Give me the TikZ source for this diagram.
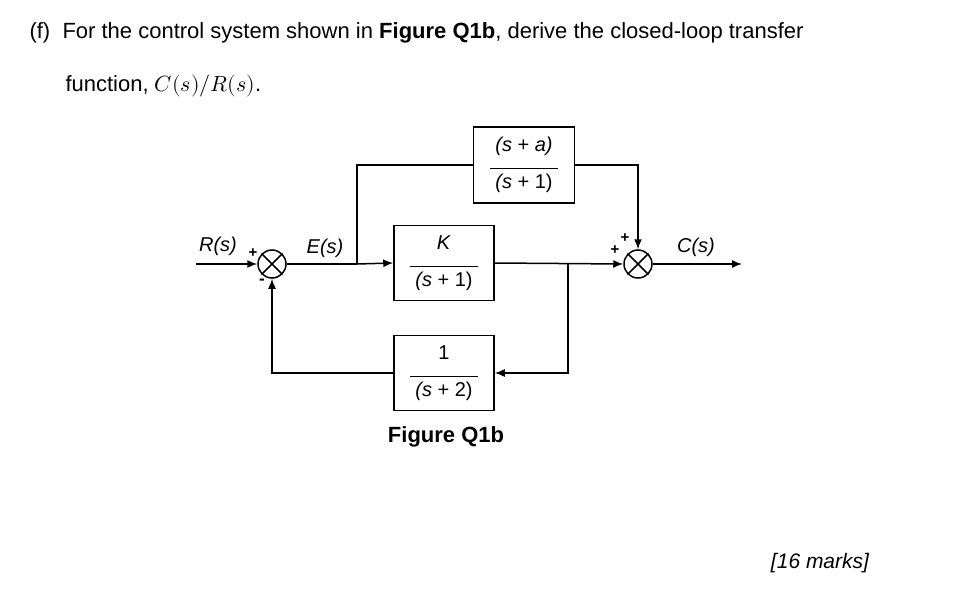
\documentclass[tikz,border=0pt]{standalone}
\usepackage{fontspec}
\setmainfont{Liberation Sans}
\usepackage{unicode-math}
\setmathfont{Latin Modern Math}
\begin{document}
\begin{tikzpicture}[x=1pt,y=-1pt,
  blk/.style={draw,line width=1.5pt,minimum width=100pt,minimum height=75pt,inner sep=0pt},
  sumj/.style={draw,circle,line width=1.5pt,minimum size=28pt,inner sep=0pt},
  sig/.style={line width=1.5pt,-{Latex[length=10pt,width=8pt]}},
  ln/.style={line width=1.5pt},
  lab/.style={font=\fontsize{20}{22}\selectfont\itshape}]
\usetikzlibrary{arrows.meta}
\useasboundingbox (0,0) rectangle (971,607);
\node[anchor=west,font=\fontsize{22}{26}\selectfont] (t1) at (26,33) {(f)\ \ For the control system shown in \textbf{Figure Q1b}, derive the closed-loop transfer};
\node[anchor=west,font=\fontsize{22}{26}\selectfont] (t2) at (62,86) {function, $C(s)/R(s)$.};
\node[sumj] (s1) at (272,264) {};
\draw[ln] (s1.north west)--(s1.south east) (s1.north east)--(s1.south west);
\node[sumj] (s2) at (638,264) {};
\draw[ln] (s2.north west)--(s2.south east) (s2.north east)--(s2.south west);
\newcommand{\blkfrac}[2]{\begin{tabular}{c}#1\\[-6pt]\rule{68pt}{1.2pt}\\[-5pt]#2\end{tabular}}
\node[blk,minimum width=101pt,minimum height=76pt] (g1) at (524,165) {\fontsize{20}{24}\selectfont\blkfrac{\textit{(s} + \textit{a)}}{\textit{(s} + 1)}};
\node[blk] (g2) at (444,263) {\fontsize{20}{24}\selectfont\blkfrac{\textit{K}}{\textit{(s} + 1)}};
\node[blk] (h) at (444,373) {\fontsize{20}{24}\selectfont\blkfrac{1}{\textit{(s} + 2)}};
\coordinate (rin) at (196,264);
\coordinate (b1) at (357,264);
\coordinate (b2) at (568,264);
\coordinate (cout) at (742,264);
\draw[sig] (rin) -- (s1.west);
\draw[ln] (s1.east) -- (b1);
\draw[sig] (b1) -- (g2.west);
\draw[ln] (b1) |- (g1.west);
\draw[sig] (g1.east) -| (s2.north);
\draw[sig] (g2.east) -- (s2.west);
\draw[sig] (b2) |- (h.east);
\draw[sig] (h.west) -| (s1.south);
\draw[sig] (s2.east) -- (cout);
\node[lab] (rl) at (218,246) {R(s)};
\node[lab] (el) at (325,248) {E(s)};
\node[lab] (cl) at (696,247) {C(s)};
\node[font=\fontsize{15}{16}\selectfont\bfseries] (p1) at (253,253) {+};
\node[font=\fontsize{17}{18}\selectfont\bfseries] (m1) at (262,282) {-};
\node[font=\fontsize{15}{16}\selectfont\bfseries] (p2) at (615,250) {+};
\node[font=\fontsize{15}{16}\selectfont\bfseries] (p3) at (625,238) {+};
\node[font=\fontsize{22}{24}\selectfont\bfseries] (fig) at (446,437) {Figure Q1b};
\node[font=\fontsize{21}{24}\selectfont\itshape] (mk) at (820,563) {[16 marks]};
\end{tikzpicture}
\end{document}
